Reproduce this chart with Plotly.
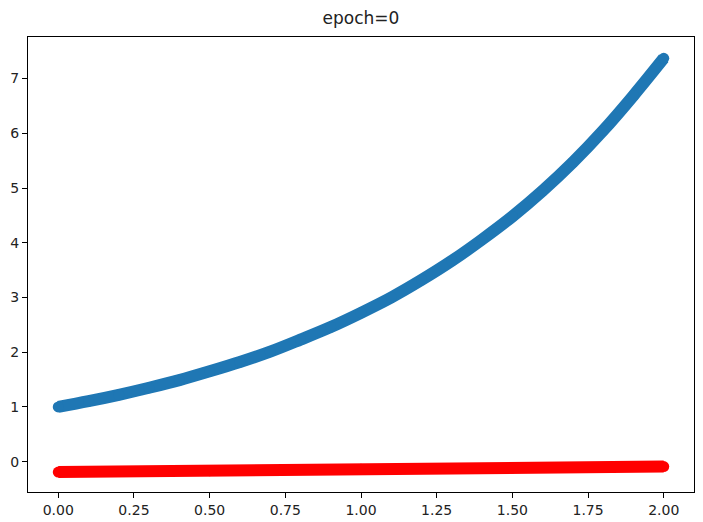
import plotly.graph_objects as go

# values
x_blue = [0.0, 0.1, 0.2, 0.3, 0.4, 0.5, 0.6, 0.7, 0.8, 0.9, 1.0,
          1.1, 1.2, 1.3, 1.4, 1.5, 1.6, 1.7, 1.8, 1.9, 2.0]
y_blue = [1.0, 1.105, 1.221, 1.35, 1.49, 1.65, 1.82, 2.01, 2.23, 2.46, 2.72,
          3.0, 3.32, 3.67, 4.06, 4.48, 4.95, 5.47, 6.05, 6.69, 7.37]

x_red = [0.0, 0.5, 1.0, 1.5, 2.0]
y_red = [-0.19, -0.165, -0.14, -0.115, -0.09]

x_ticks = [0.0, 0.25, 0.5, 0.75, 1.0, 1.25, 1.5, 1.75, 2.0]
y_ticks = [0, 1, 2, 3, 4, 5, 6, 7]

fig = go.Figure()
fig.add_trace(go.Scatter(
    x=x_blue, y=y_blue, mode="lines+markers",
    line=dict(color="#1f77b4", width=12, shape="spline"),
    marker=dict(color="#1f77b4", size=11),
))
fig.add_trace(go.Scatter(
    x=x_red, y=y_red, mode="lines+markers",
    line=dict(color="#ff0000", width=12),
    marker=dict(color="#ff0000", size=11),
))

axis_style = dict(
    showgrid=False, zeroline=False, showline=True, mirror=True,
    linecolor="black", linewidth=1, automargin=False,
    ticks="outside", ticklen=5, tickcolor="black", tickwidth=1,
    tickfont=dict(family="DejaVu Sans", size=14, color="#222"),
)

fig.update_xaxes(range=[-0.1, 2.1], tickvals=x_ticks, tickformat=".2f", **axis_style)
fig.update_yaxes(range=[-0.555, 7.76], tickvals=y_ticks, **axis_style)

fig.update_layout(
    width=703, height=522,
    margin=dict(l=28, r=9, t=37, b=30),
    paper_bgcolor="white", plot_bgcolor="white",
    showlegend=False,
    title=dict(text="epoch=0", x=0.5, xref="paper", y=1 - 18 / 522, yanchor="middle",
               automargin=False,
               font=dict(family="DejaVu Sans", size=17, color="#222")),
)

# page body has a default 8px margin; drop it so the figure sits at 0,0
fig.write_html("out.html", config={"displayModeBar": False},
               post_script="document.body.style.margin='0';document.body.style.overflow='hidden';")
